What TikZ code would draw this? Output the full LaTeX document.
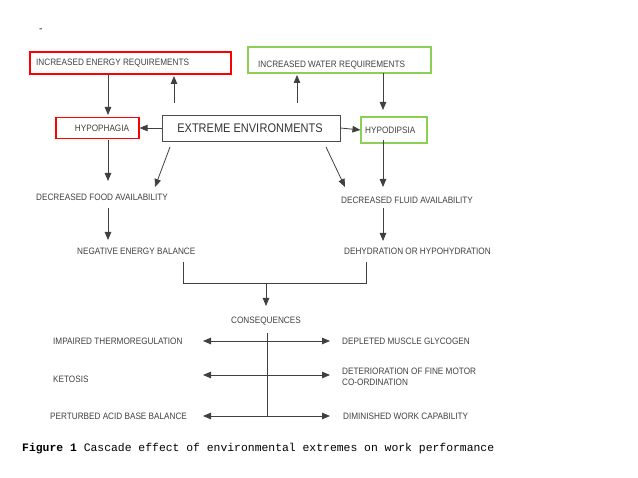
\documentclass[tikz,border=0pt]{standalone}
\usepackage{fontspec}
\setmainfont{Liberation Sans}[FakeStretch=0.88]
\newfontfamily\capfont{Liberation Mono}
\usetikzlibrary{arrows.meta}
\definecolor{gbox}{HTML}{8CCF55}
\begin{document}
\begin{tikzpicture}[x=1pt,y=-1pt,
  lbl/.style={inner sep=0pt,font=\fontsize{9.3}{11}\selectfont,text=black!75},
  box/.style={draw,line width=1.1pt},
  arr/.style={-{Triangle[length=8pt,width=6.5pt]},line width=0.8pt,draw=black!75},
  ln/.style={line width=0.8pt,draw=black!75}]
\useasboundingbox (0,0) rectangle (638,478);
\node[lbl,anchor=west,font=\fontsize{12}{13}\selectfont] (dash) at (39,31) {-};
% boxes
\node[box,draw=red,minimum width=201pt,minimum height=22pt,inner sep=0pt] (ier) at (130.5,63) {};
\node[lbl,anchor=west] (iert) at (36,63) {INCREASED ENERGY REQUIREMENTS};
\node[box,draw=gbox,minimum width=183pt,minimum height=26pt,inner sep=0pt] (iwr) at (339.5,60) {};
\node[lbl,anchor=west] (iwrt) at (258,65) {INCREASED WATER REQUIREMENTS};
\node[box,draw=red,minimum width=83pt,minimum height=21pt,inner sep=0pt] (hph) at (97.5,128) {};
\node[lbl] (hpht) at (102,128) {HYPOPHAGIA};
\node[draw=black!70,line width=0.9pt,minimum width=178pt,minimum height=26pt,inner sep=0pt] (ee) at (251,128) {};
\node[lbl,font=\fontsize{12.5}{13}\selectfont,text=black!80] (eet) at (250,128) {EXTREME ENVI\kern0.5pt RONMENTS};
\node[box,draw=gbox,minimum width=66pt,minimum height=26pt,inner sep=0pt] (hpd) at (394,130) {};
\node[lbl,anchor=west] (hpdt) at (365,130) {HYPODIPSIA};
% texts
\node[lbl,anchor=west] (dfa) at (36,197) {DECREASED FOOD AVAILABILITY};
\node[lbl,anchor=west] (dfla) at (341,200) {DECREASED FLUID AVAILABILITY};
\node[lbl,anchor=west] (neb) at (77,251) {NEGATIVE ENERGY BALANCE};
\node[lbl,anchor=west] (doh) at (344,251) {DEHYDRATION OR HYPOHYDRATION};
\node[lbl] (cons) at (266,321) {CONSEQUENCES};
\node[lbl,anchor=west] (l1) at (53,341) {IMPAIRED THERMOREGULATION};
\node[lbl,anchor=west] (l2) at (53,379) {KETOSIS};
\node[lbl,anchor=west] (l3) at (50,416) {PERTURBED ACID BASE BALANCE};
\node[lbl,anchor=west] (r1) at (342,341) {DEPLETED MUSCLE GLYCOGEN};
\node[lbl,anchor=west,align=left] (r2) at (342,377) {DETERIORATION OF FINE MOTOR\\CO-ORDINATION};
\node[lbl,anchor=west] (r3) at (343,416) {DIMINISHED WORK CAPABILITY};
\node[inner sep=0pt,anchor=west,font=\capfont\fontsize{11.4}{13}\selectfont] (cap) at (22,449) {\textbf{Figure 1} Cascade effect of environmental extremes on work performance};
% arrows
\draw[arr] (174,103) -- (174,76);
\draw[arr] (297,103) -- (297,75);
\draw[arr] (108,74) -- (108,115);
\draw[arr] (383,73) -- (383,110);
\draw[arr] (ee.west) -- (hph.east);
\draw[arr] (ee.east) -- (hpd.west);
\draw[arr] (108,140) -- (108,181);
\draw[arr] (170,147) -- (155,187);
\draw[arr] (326,147) -- (345,187);
\draw[arr] (383,140) -- (383,187);
\draw[arr] (108,208) -- (108,240);
\draw[arr] (383,208) -- (383,241);
\draw[ln] (183,262) -- (183,283) -- (366,283) -- (366,262);
\draw[arr] (266,283) -- (266,306);
\draw[ln] (267,333) -- (267,416);
\foreach \y in {341,375,416}{
  \draw[arr] (267,\y) -- (203,\y);
  \draw[arr] (267,\y) -- (330,\y);
}
\end{tikzpicture}
\end{document}
